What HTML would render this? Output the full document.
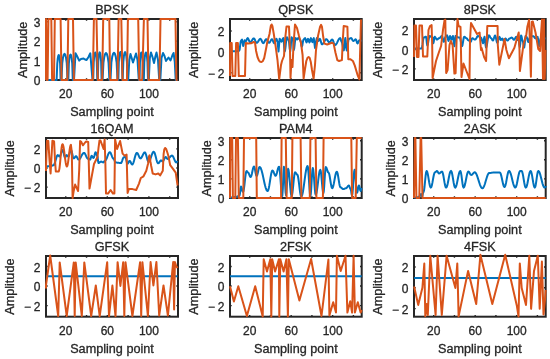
<!DOCTYPE html>
<html><head><meta charset="utf-8"><style>
html,body{margin:0;padding:0;background:#fff;width:550px;height:359px;overflow:hidden}
svg{display:block;filter:blur(0.35px)}
text{font-family:"Liberation Sans",Arial,sans-serif;fill:#262626;stroke:#262626;stroke-width:0.3px}
</style></head><body>
<svg width="550" height="359" viewBox="0 0 550 359">
<rect x="46" y="19" width="132" height="61" fill="none" stroke="#262626" stroke-width="2.0"/>
<path d="M65.75 80v-1.7M65.75 19v1.7M86.54 80v-1.7M86.54 19v1.7M107.32 80v-1.7M107.32 19v1.7M128.11 80v-1.7M128.11 19v1.7M148.9 80v-1.7M148.9 19v1.7M169.69 80v-1.7M169.69 19v1.7M46 80h1.7M178 80h-1.7M46 60.58h1.7M178 60.58h-1.7M46 41.17h1.7M178 41.17h-1.7M46 21.75h1.7M178 21.75h-1.7" stroke="#262626" stroke-width="1.4" fill="none"/>
<polyline points="46,80 56.6,80 57.27,63.77 57.75,58.61 58.23,55.88 58.7,55 59.17,55.88 59.65,58.61 60.12,63.77 60.6,80 61.5,80 62.25,62.99 63,57.58 63.75,54.72 64.5,53.8 65.25,54.72 66,57.58 66.75,62.99 67.5,80 68.3,80 68.86,63.45 69.42,58.18 69.99,55.39 70.55,54.5 71.11,55.39 71.67,58.18 72.24,63.45 72.8,80 74,80 75.5,53.2 77,56 79.2,60.6 81,59 83.6,58.5 85,59.5 86.6,60 88.5,57 90.3,53.3 92.5,80 93.2,80 93.71,62.15 94.22,56.47 94.74,53.46 95.25,52.5 95.76,53.46 96.28,56.47 96.79,62.15 97.3,80 97.8,80 98.27,62.02 98.75,56.3 99.22,53.27 99.7,52.3 100.17,53.27 100.65,56.3 101.12,62.02 101.6,80 102.6,80 103.45,62.48 104.3,56.9 105.15,53.95 106,53 106.85,53.95 107.7,56.9 108.55,62.48 109.4,80 110.5,80 111.38,62.28 112.25,56.64 113.12,53.66 114,52.7 114.88,53.66 115.75,56.64 116.62,62.28 117.5,80 118.3,80 118.83,61.83 119.35,56.04 119.88,52.98 120.4,52 120.92,52.98 121.45,56.04 121.97,61.83 122.5,80 122.7,80 123.3,61.83 123.9,56.04 124.5,52.98 125.1,52 125.7,52.98 126.3,56.04 126.9,61.83 127.5,80 128.2,80 129.3,60 130.5,54 133,62.5 136,53.5 137.5,60 138.8,80 139.5,80 139.96,62.15 140.43,56.47 140.89,53.46 141.35,52.5 141.81,53.46 142.27,56.47 142.74,62.15 143.2,80 143.8,80 144.33,62.15 144.85,56.47 145.38,53.46 145.9,52.5 146.43,53.46 146.95,56.47 147.47,62.15 148,80 148.8,80 149.8,58 151,52.5 152.5,57 154,63 155.5,56 156.5,52.5 158,60 159.2,80 160.3,80 161.5,58 163,53 164.5,56 166,61 168.5,57.5 170.5,60.5 172.5,55 173.6,53 174.8,62 175.7,80 177.5,80" fill="none" stroke="#0072BD" stroke-width="2.0" stroke-linejoin="round"/>
<polyline points="46,80 46,19 46.1,19 46.9,80 47.6,80 48.4,19 51.3,19 52.1,80 54,80 54.8,19 60.6,19 61.5,80 67.4,80 68.3,19 73,19 73.9,80 92.8,80 93.9,19 96.5,19 97.8,80 102.2,80 103.2,19 109.3,19 110.1,80 117.5,80 118.6,19 121.3,19 122.5,80 127,80 127.9,19 138.2,19 139.3,80 142.2,80 143.9,19 147.5,19 148.5,80 159.4,80 160.5,19 175.5,19 176.4,80 177.5,80" fill="none" stroke="#D95319" stroke-width="2.0" stroke-linejoin="round"/>
<text x="112" y="13.5" text-anchor="middle" font-size="12.65">BPSK</text>
<text x="65.75" y="98.2" text-anchor="middle" font-size="12">20</text>
<text x="107.32" y="98.2" text-anchor="middle" font-size="12">60</text>
<text x="148.9" y="98.2" text-anchor="middle" font-size="12">100</text>
<text x="112" y="116.2" text-anchor="middle" font-size="12.65">Sampling point</text>
<text x="40.4" y="85" text-anchor="end" font-size="12">0</text>
<text x="40.4" y="65.58" text-anchor="end" font-size="12">1</text>
<text x="40.4" y="46.17" text-anchor="end" font-size="12">2</text>
<text x="40.4" y="26.75" text-anchor="end" font-size="12">3</text>
<text transform="translate(26.8 49.8) rotate(-90)" text-anchor="middle" font-size="12.65">Amplitude</text>
<rect x="230" y="19" width="131.7" height="61" fill="none" stroke="#262626" stroke-width="2.0"/>
<path d="M249.7 80v-1.7M249.7 19v1.7M270.44 80v-1.7M270.44 19v1.7M291.18 80v-1.7M291.18 19v1.7M311.92 80v-1.7M311.92 19v1.7M332.66 80v-1.7M332.66 19v1.7M353.4 80v-1.7M353.4 19v1.7M230 72.78h1.7M361.7 72.78h-1.7M230 51.86h1.7M361.7 51.86h-1.7M230 30.94h1.7M361.7 30.94h-1.7" stroke="#262626" stroke-width="1.4" fill="none"/>
<polyline points="230,51.3 236,51.3 236,51.3 236.46,51.28 236.91,51.21 237.37,51.11 237.83,50.99 238.29,50.89 238.74,50.82 239.2,50.8 239.65,49.34 240.1,45.8 240.55,42.26 241,40.8 241.5,40.2 242,39.6 242.6,42.8 243.2,46 243.67,44.58 244.13,41.73 244.6,40.3 245,40.55 245.4,41.05 245.8,41.3 246.25,40.83 246.7,39.7 247.15,38.57 247.6,38.1 248.03,38.39 248.47,39.17 248.9,40.25 249.33,41.32 249.77,42.11 250.2,42.4 250.6,42.28 251,41.93 251.4,41.4 251.8,40.75 252.2,40.05 252.6,39.4 253,38.87 253.4,38.52 253.8,38.4 254.21,38.62 254.63,39.23 255.04,40.11 255.46,41.09 255.87,41.97 256.29,42.58 256.7,42.8 257.11,42.68 257.52,42.33 257.93,41.8 258.34,41.15 258.76,40.45 259.17,39.8 259.58,39.27 259.99,38.92 260.4,38.8 260.81,39.02 261.23,39.63 261.64,40.51 262.06,41.49 262.47,42.37 262.89,42.98 263.3,43.2 263.71,43 264.13,42.45 264.54,41.65 264.96,40.75 265.37,39.95 265.79,39.4 266.2,39.2 266.61,39.38 267.03,39.88 267.44,40.6 267.86,41.4 268.27,42.12 268.69,42.62 269.1,42.8 269.51,42.62 269.93,42.12 270.34,41.4 270.76,40.6 271.17,39.88 271.59,39.38 272,39.2 272.44,39.58 272.88,40.58 273.32,41.82 273.76,42.82 274.2,43.2 274.64,42.78 275.08,41.68 275.52,40.32 275.96,39.22 276.4,38.8 276.8,39.55 277.2,41.05 277.6,41.8 278.05,46.65 278.5,51.5 279.05,45.15 279.6,38.8 280.08,39.22 280.55,40.25 281.02,41.28 281.5,41.7 281.95,41.17 282.4,39.9 282.85,38.63 283.3,38.1 283.77,41.45 284.23,48.15 284.7,51.5 285.14,50.14 285.58,46.59 286.02,42.21 286.46,38.66 286.9,37.3 287.35,37.74 287.8,38.8 288.25,39.86 288.7,40.3 289.2,43.1 289.7,48.7 290.2,51.5 290.67,47.95 291.13,40.85 291.6,37.3 292.1,38.05 292.6,39.55 293.1,40.3 293.45,45.15 293.8,50 294.25,48.26 294.7,44.05 295.15,39.84 295.6,38.1 296.1,38.45 296.6,39.15 297.1,39.5 297.57,39.05 298.03,38.15 298.5,37.7 298.98,38.08 299.45,39 299.92,39.92 300.4,40.3 300.87,41.92 301.33,45.17 301.8,46.8 302.25,45.73 302.7,43.15 303.15,40.57 303.6,39.5 304.1,39.15 304.6,38.45 305.1,38.1 305.57,39.17 306.03,41.32 306.5,42.4 307,41.5 307.5,39.7 308,38.8 308.5,39.7 309,41.5 309.5,42.4 309.97,41.33 310.43,39.18 310.9,38.1 311.4,39.1 311.9,41.1 312.4,42.1 312.87,41.1 313.33,39.1 313.8,38.1 314.4,43.05 315,48 315.48,46.55 315.95,43.05 316.42,39.55 316.9,38.1 317.4,38.83 317.9,40.27 318.4,41 318.87,40.45 319.33,39.35 319.8,38.8 320.24,39.33 320.68,40.7 321.12,42.4 321.56,43.77 322,44.3 322.44,44.18 322.88,43.81 323.32,43.25 323.76,42.54 324.2,41.75 324.64,40.96 325.08,40.25 325.52,39.69 325.96,39.32 326.4,39.2 326.81,39.36 327.23,39.8 327.64,40.44 328.06,41.16 328.47,41.8 328.89,42.24 329.3,42.4 329.71,42.26 330.13,41.85 330.54,41.27 330.96,40.63 331.37,40.05 331.79,39.64 332.2,39.5 332.61,39.77 333.03,40.54 333.44,41.64 333.86,42.86 334.27,43.96 334.69,44.73 335.1,45 335.53,44.88 335.95,44.54 336.38,43.99 336.8,43.27 337.23,42.44 337.65,41.55 338.07,40.66 338.5,39.83 338.93,39.11 339.35,38.56 339.77,38.22 340.2,38.1 340.67,39 341.13,40.8 341.6,41.7 342.04,42.53 342.48,44.71 342.92,47.39 343.36,49.57 343.8,50.4 344.3,47.33 344.8,41.18 345.3,38.1 345.77,41.17 346.23,47.32 346.7,50.4 347.14,49.29 347.58,46.39 348.02,42.81 348.46,39.91 348.9,38.8 349.34,38.73 349.78,38.56 350.22,38.34 350.66,38.17 351.1,38.1 351.54,38.38 351.98,39.1 352.42,40 352.86,40.72 353.3,41 353.78,40.84 354.26,40.41 354.74,39.89 355.22,39.46 355.7,39.3 356.15,39.9 356.6,41.35 357.05,42.8 357.5,43.4 357.98,42.95 358.45,41.85 358.92,40.75 359.4,40.3 359.82,40.35 360.24,40.47 360.66,40.63 361.08,40.75 361.5,40.8" fill="none" stroke="#0072BD" stroke-width="2.0" stroke-linejoin="round"/>
<polyline points="230,76.1 230.2,43.1 231.7,43.1 232.6,76.1 235.3,76.1 236.1,43.1 237.9,43.1 238.8,76.1 245,76.1 245.8,43.1 248,43.6 251,43.3 253.6,42 255,42.5 256.1,51 257.5,57 259,60.6 260.2,61.8 261.5,62 262.8,61.2 264.2,58 265.4,52 266.3,47.5 267.3,42 269.5,34 270.8,26 271.6,24.5 272.4,26 273.8,34 275.6,46 277.5,60 279.2,79.1 281,65 282,61 284,56 285,40 286.5,26.5 289,26.5 290,50 290.5,78 291.5,60 292.5,67 293.5,45 295,24.5 297,28 299,36 301,43 302.6,55 303.6,78.5 305,69 306.3,61 307.5,57.8 308.6,57 309.7,58 310.8,62 312,70 313.6,78.6 315,65 316,50 318,36 320,27 321.1,24.8 322,27 323.1,36 324.4,43.6 327.2,44.5 331.8,42.7 333.6,43.6 335.5,52.8 337.3,60.1 339.1,61 341.9,60.1 342.8,40 343.7,26.1 347.4,26.8 348.3,59.2 350.2,59.2 352.9,61 354.8,65.6 357.5,74.8 359.4,79.4 360.3,45 361,19.5" fill="none" stroke="#D95319" stroke-width="2.0" stroke-linejoin="round"/>
<text x="295.85" y="13.5" text-anchor="middle" font-size="12.65">QPSK</text>
<text x="249.7" y="98.2" text-anchor="middle" font-size="12">20</text>
<text x="291.18" y="98.2" text-anchor="middle" font-size="12">60</text>
<text x="332.66" y="98.2" text-anchor="middle" font-size="12">100</text>
<text x="295.85" y="116.2" text-anchor="middle" font-size="12.65">Sampling point</text>
<text x="224.4" y="77.78" text-anchor="end" font-size="12">−<tspan dx="2.6">2</tspan></text>
<text x="224.4" y="56.86" text-anchor="end" font-size="12">0</text>
<text x="224.4" y="35.94" text-anchor="end" font-size="12">2</text>
<text transform="translate(197.8 49.8) rotate(-90)" text-anchor="middle" font-size="12.65">Amplitude</text>
<rect x="414" y="19" width="131.7" height="61" fill="none" stroke="#262626" stroke-width="2.0"/>
<path d="M433.7 80v-1.7M433.7 19v1.7M454.44 80v-1.7M454.44 19v1.7M475.18 80v-1.7M475.18 19v1.7M495.92 80v-1.7M495.92 19v1.7M516.66 80v-1.7M516.66 19v1.7M537.4 80v-1.7M537.4 19v1.7M414 68.92h1.7M545.7 68.92h-1.7M414 49.5h1.7M545.7 49.5h-1.7M414 30.08h1.7M545.7 30.08h-1.7" stroke="#262626" stroke-width="1.4" fill="none"/>
<polyline points="414.1,48.5 414.53,48.5 414.97,48.49 415.4,48.48 415.83,48.46 416.27,48.44 416.7,48.42 417.13,48.41 417.57,48.4 418,48.4 418.4,48.4 418.8,48.4 419.2,48.4 419.6,48.4 420,48.4 420.4,48.4 420.8,48.4 421.2,48.4 421.6,48.4 422.04,47.36 422.48,44.63 422.92,41.27 423.36,38.54 423.8,37.5 424.24,37.42 424.68,37.22 425.12,36.98 425.56,36.78 426,36.7 426.43,38.9 426.87,43.3 427.3,45.5 427.76,44.59 428.22,42.22 428.68,39.28 429.14,36.91 429.6,36 430.01,36.07 430.43,36.28 430.84,36.58 431.26,36.92 431.67,37.22 432.09,37.43 432.5,37.5 432.9,40.4 433.3,43.3 433.77,41.65 434.23,38.35 434.7,36.7 435.14,36.98 435.58,37.7 436.02,38.6 436.46,39.32 436.9,39.6 437.34,39.47 437.78,39.12 438.22,38.68 438.66,38.33 439.1,38.2 439.51,38.09 439.93,37.79 440.34,37.34 440.76,36.86 441.17,36.41 441.59,36.11 442,36 442.45,36.85 442.9,38.9 443.35,40.95 443.8,41.8 444.25,41.05 444.7,39.25 445.15,37.45 445.6,36.7 446.1,36.35 446.6,35.65 447.1,35.3 447.57,36.72 448.03,39.57 448.5,41 449,39.75 449.5,37.25 450,36 450.5,36.9 451,38.7 451.5,39.6 451.97,38.7 452.43,36.9 452.9,36 453.4,38.55 453.9,43.65 454.4,46.2 454.95,41.1 455.5,36 455.91,36.07 456.33,36.28 456.74,36.58 457.16,36.92 457.57,37.22 457.99,37.43 458.4,37.5 458.87,37.5 459.33,37.5 459.8,37.5 460.24,38.33 460.68,40.51 461.12,43.19 461.56,45.37 462,46.2 462.44,45.29 462.88,42.92 463.32,39.98 463.76,37.61 464.2,36.7 464.64,36.84 465.08,37.22 465.52,37.68 465.96,38.06 466.4,38.2 466.82,38.41 467.24,38.96 467.66,39.64 468.08,40.19 468.5,40.4 468.94,40.53 469.38,40.88 469.82,41.32 470.26,41.67 470.7,41.8 471.2,40.9 471.7,39.1 472.2,38.2 472.61,38.27 473.03,38.46 473.44,38.74 473.86,39.06 474.27,39.34 474.69,39.53 475.1,39.6 475.51,39.42 475.93,38.92 476.34,38.2 476.76,37.4 477.17,36.68 477.59,36.18 478,36 478.41,36.07 478.83,36.28 479.24,36.58 479.66,36.92 480.07,37.22 480.49,37.43 480.9,37.5 481.34,38.05 481.78,39.5 482.22,41.3 482.66,42.75 483.1,43.3 483.57,41.65 484.03,38.35 484.5,36.7 485,39.43 485.5,44.88 486,47.6 486.41,46.99 486.83,45.28 487.24,42.82 487.66,40.08 488.07,37.62 488.49,35.91 488.9,35.3 489.34,35.58 489.78,36.3 490.22,37.2 490.66,37.92 491.1,38.2 491.55,38.54 492,39.35 492.45,40.16 492.9,40.5 493.34,40.02 493.78,38.77 494.22,37.23 494.66,35.98 495.1,35.5 495.54,36.19 495.98,37.99 496.42,40.21 496.86,42.01 497.3,42.7 497.74,42.15 498.18,40.7 498.62,38.9 499.06,37.45 499.5,36.9 499.97,37.67 500.43,39.23 500.9,40 501.4,39.62 501.9,38.88 502.4,38.5 502.87,39.2 503.33,40.6 503.8,41.3 504.3,40.6 504.8,39.2 505.3,38.5 505.74,38.69 506.18,39.19 506.62,39.81 507.06,40.31 507.5,40.5 507.92,40.31 508.34,39.81 508.76,39.19 509.18,38.69 509.6,38.5 510.04,38.41 510.48,38.19 510.92,37.91 511.36,37.69 511.8,37.6 512.24,37.81 512.68,38.36 513.12,39.04 513.56,39.59 514,39.8 514.44,39.52 514.88,38.8 515.32,37.9 515.76,37.18 516.2,36.9 516.8,38.45 517.4,40 517.85,38 518.3,36 518.8,38.77 519.3,44.33 519.8,47.1 520.23,44.2 520.67,38.4 521.1,35.5 521.5,36.31 521.9,38.25 522.3,40.19 522.7,41 523.2,42.62 523.7,45.88 524.2,47.5 524.67,44.62 525.13,38.88 525.6,36 526.15,36.5 526.7,37 527.2,38.25 527.7,40.75 528.2,42 528.64,41.47 529.08,40.1 529.52,38.4 529.96,37.03 530.4,36.5 530.81,36.49 531.23,36.44 531.64,36.38 532.06,36.32 532.47,36.26 532.89,36.21 533.3,36.2 533.74,36.41 534.18,36.96 534.62,37.64 535.06,38.19 535.5,38.4 535.92,38.26 536.34,37.88 536.76,37.42 537.18,37.04 537.6,36.9 538.1,39.17 538.6,43.73 539.1,46 539.58,44.83 540.05,42 540.52,39.17 541,38 541.4,38.19 541.8,38.69 542.2,39.31 542.6,39.81 543,40 543.42,39.87 543.83,39.5 544.25,39 544.67,38.5 545.08,38.13 545.5,38" fill="none" stroke="#0072BD" stroke-width="2.0" stroke-linejoin="round"/>
<polyline points="414.1,57 414.5,25.5 416,25.5 417,57 418.5,57 419.5,25.5 422,25.5 423,56.5 427.3,56.5 428.5,30 430,26 431.6,25 432.2,45 432.6,78 436,61 439,52 441.1,46 443,30 444.6,20 445.3,19.5 446.2,73 447.6,70 449.5,45 450.8,41 452.6,45 454.4,73.6 455.6,73.2 456.6,40 457.5,19 458.5,26 460.5,27 461.5,77.1 463.5,63.5 469.5,79 470,40 471,23 477,34 479.6,32.5 481,50 481.6,48 484.1,57 486.1,61 486.8,40 487.3,26 497.6,26 497.8,45 499.3,64.7 504.5,39.1 506.4,50 508.9,58.3 514.4,47.8 518.7,32.5 519.5,50 519.9,71.1 523.6,43.6 526.3,35 527.3,27 529.1,19.7 530,45 530.9,76.7 531.8,22 532.8,21.5 535.5,32.5 538.3,49 540.1,51 541,34.4 542,19.5 543,79 544,19.5 544.7,79 545.5,50" fill="none" stroke="#D95319" stroke-width="2.0" stroke-linejoin="round"/>
<text x="479.85" y="13.5" text-anchor="middle" font-size="12.65">8PSK</text>
<text x="433.7" y="98.2" text-anchor="middle" font-size="12">20</text>
<text x="475.18" y="98.2" text-anchor="middle" font-size="12">60</text>
<text x="516.66" y="98.2" text-anchor="middle" font-size="12">100</text>
<text x="479.85" y="116.2" text-anchor="middle" font-size="12.65">Sampling point</text>
<text x="408.4" y="73.92" text-anchor="end" font-size="12">−<tspan dx="2.6">2</tspan></text>
<text x="408.4" y="54.5" text-anchor="end" font-size="12">0</text>
<text x="408.4" y="35.08" text-anchor="end" font-size="12">2</text>
<text transform="translate(381.8 49.8) rotate(-90)" text-anchor="middle" font-size="12.65">Amplitude</text>
<rect x="46" y="138" width="132" height="60" fill="none" stroke="#262626" stroke-width="2.0"/>
<path d="M65.75 198v-1.7M65.75 138v1.7M86.54 198v-1.7M86.54 138v1.7M107.32 198v-1.7M107.32 138v1.7M128.11 198v-1.7M128.11 138v1.7M148.9 198v-1.7M148.9 138v1.7M169.69 198v-1.7M169.69 138v1.7M46 187.1h1.7M178 187.1h-1.7M46 168h1.7M178 168h-1.7M46 148.9h1.7M178 148.9h-1.7" stroke="#262626" stroke-width="1.4" fill="none"/>
<polyline points="46,166.5 46,166.49 46.15,166.48 46.58,166.45 47.01,166.41 47.44,166.37 47.86,166.33 48.29,166.29 48.72,166.25 49.15,166.22 49.57,166.21 50,166.2 50.44,166.17 50.88,166.07 51.31,165.92 51.75,165.75 52.19,165.58 52.62,165.43 53.06,165.33 53.5,165.3 53.93,165.05 54.36,164.33 54.79,163.2 55.22,161.78 55.65,160.2 56.08,158.62 56.51,157.2 56.94,156.07 57.37,155.35 57.8,155.1 58.25,155.31 58.7,155.8 59.15,156.29 59.6,156.5 60.01,156.18 60.43,155.28 60.84,153.97 61.26,152.53 61.67,151.22 62.09,150.32 62.5,150 62.93,150.51 63.37,151.9 63.8,153.8 64.23,155.7 64.67,157.09 65.1,157.6 65.57,156.97 66.03,155.72 66.5,155.1 66.97,155.31 67.45,155.8 67.93,156.29 68.4,156.5 68.82,156.06 69.23,154.88 69.65,153.25 70.07,151.62 70.48,150.44 70.9,150 71.31,150.42 71.73,151.58 72.14,153.27 72.56,155.13 72.97,156.82 73.39,157.98 73.8,158.4 74.24,158.19 74.68,157.64 75.12,156.96 75.56,156.41 76,156.2 76.43,156.43 76.87,157.05 77.3,157.9 77.73,158.75 78.17,159.37 78.6,159.6 79.02,159.5 79.43,159.22 79.85,158.76 80.26,158.15 80.68,157.44 81.09,156.65 81.51,155.85 81.92,155.06 82.34,154.35 82.75,153.74 83.17,153.28 83.58,153 84,152.9 84.4,153.04 84.8,153.45 85.2,154.1 85.6,154.9 86,155.8 86.4,156.7 86.8,157.5 87.2,158.15 87.6,158.56 88,158.7 88.44,158.78 88.88,158.98 89.32,159.22 89.76,159.42 90.2,159.5 90.67,158.58 91.13,156.73 91.6,155.8 92.07,156.12 92.55,156.9 93.03,157.68 93.5,158 93.92,157.45 94.34,156 94.76,154.2 95.18,152.75 95.6,152.2 96.02,152.76 96.45,154.1 96.88,155.44 97.3,156 97.7,157.78 98.1,161.32 98.5,163.1 98.93,163 99.37,162.72 99.8,162.35 100.23,161.97 100.67,161.7 101.1,161.6 101.54,161.68 101.98,161.88 102.42,162.12 102.86,162.32 103.3,162.4 103.75,162.12 104.2,161.45 104.65,160.78 105.1,160.5 105.53,160.33 105.95,159.84 106.38,159.07 106.81,158.07 107.24,156.94 107.66,155.76 108.09,154.63 108.52,153.63 108.95,152.86 109.37,152.37 109.8,152.2 110.21,152.4 110.62,152.96 111.03,153.82 111.44,154.89 111.86,156.01 112.27,157.07 112.68,157.94 113.09,158.5 113.5,158.7 113.92,159.05 114.34,159.98 114.76,161.12 115.18,162.05 115.6,162.4 116.04,162.43 116.48,162.5 116.92,162.6 117.36,162.67 117.8,162.7 118.24,162.72 118.69,162.78 119.13,162.86 119.57,162.94 120.01,163.02 120.46,163.08 120.9,163.1 121.31,162.81 121.73,162.01 122.14,160.85 122.56,159.55 122.97,158.39 123.39,157.59 123.8,157.3 124.3,157.23 124.8,157.08 125.3,157 125.74,157.65 126.18,159.35 126.62,161.45 127.06,163.15 127.5,163.8 127.92,163.52 128.34,162.8 128.76,161.9 129.18,161.18 129.6,160.9 130.03,161.14 130.47,161.8 130.9,162.7 131.33,163.6 131.77,164.26 132.2,164.5 132.63,164.27 133.05,163.58 133.48,162.5 133.91,161.11 134.34,159.53 134.76,157.87 135.19,156.29 135.62,154.9 136.05,153.82 136.47,153.13 136.9,152.9 137.35,153.11 137.8,153.71 138.25,154.6 138.7,155.65 139.15,156.7 139.6,157.59 140.05,158.19 140.5,158.4 140.93,158.25 141.36,157.83 141.79,157.16 142.22,156.33 142.65,155.4 143.08,154.47 143.51,153.64 143.94,152.97 144.37,152.55 144.8,152.4 145.22,152.68 145.64,153.49 146.07,154.72 146.49,156.24 146.91,157.86 147.33,159.38 147.76,160.61 148.18,161.42 148.6,161.7 149.03,161.53 149.45,161.04 149.88,160.25 150.3,159.22 150.72,158.03 151.15,156.75 151.57,155.47 152,154.28 152.42,153.25 152.85,152.46 153.27,151.97 153.7,151.8 154.11,152.03 154.52,152.71 154.93,153.78 155.34,155.16 155.75,156.73 156.15,158.37 156.56,159.94 156.97,161.32 157.38,162.39 157.79,163.07 158.2,163.3 158.61,163.16 159.03,162.75 159.44,162.17 159.86,161.53 160.27,160.95 160.69,160.54 161.1,160.4 161.57,160.68 162.03,161.22 162.5,161.5 162.91,161.33 163.32,160.84 163.74,160.11 164.15,159.25 164.56,158.39 164.98,157.66 165.39,157.17 165.8,157 166.25,157.28 166.7,157.95 167.15,158.62 167.6,158.9 168,158.83 168.4,158.64 168.8,158.33 169.2,157.94 169.6,157.48 170,157.02 170.4,156.56 170.8,156.17 171.2,155.86 171.6,155.67 172,155.6 172.4,155.74 172.8,156.15 173.2,156.79 173.6,157.62 174,158.56 174.4,159.54 174.8,160.48 175.2,161.31 175.6,161.95 176,162.36 176.4,162.5 177,161.75 177.6,161" fill="none" stroke="#0072BD" stroke-width="2.0" stroke-linejoin="round"/>
<polyline points="46,171 46,167 47,140.7 48.3,141 49.5,160 50.6,173.4 51.5,157 52.4,140.7 54.1,141.5 55,160 55.8,171.5 58.3,171.5 58.6,171.5 59.03,170.68 59.47,168.31 59.9,164.68 60.33,160.22 60.77,155.48 61.2,151.03 61.63,147.39 62.07,145.02 62.5,144.2 62.9,144.65 63.3,145.97 63.7,148.05 64.1,150.72 64.5,153.76 64.9,156.94 65.3,159.98 65.7,162.65 66.1,164.73 66.5,166.05 66.9,166.5 67.3,165.97 67.7,164.44 68.1,162.05 68.5,159.04 68.9,155.7 69.3,152.36 69.7,149.35 70.1,146.96 70.5,145.43 70.9,144.9 71.8,152 72.6,198 73.5,192 75.1,184.6 78.1,191 79.2,170 80.1,141 81,141.5 82.9,145.3 85.5,142 86.5,141.5 88.2,142 88.7,160 89.5,188.6 94,164 97.5,157 98.5,148 99.5,140.5 100.5,140.5 103.6,149 104.6,139.5 105.3,160 106,193.6 108,193.6 110.6,190 113,193.6 114.4,193.6 115.1,139.5 117.1,149 120.1,141 122.6,153.6 124.6,155.6 126.6,154.6 127.6,193 128.8,189.1 132.5,189.1 136.2,190 139,183.6 140.8,178 143.5,176.3 146.3,170.8 148.1,163.4 149,156.5 149.6,155.3 150.5,162 151.2,166 152.7,173.5 155.5,174.4 158.3,173.5 160.1,175.4 162.8,170.8 163.6,154.2 164.3,149.5 165.1,148 166.2,149 167.5,153 168.4,156 170.2,165.2 173,168.9 175.7,172.6 177.6,185.5" fill="none" stroke="#D95319" stroke-width="2.0" stroke-linejoin="round"/>
<text x="112" y="132.5" text-anchor="middle" font-size="12.65">16QAM</text>
<text x="65.75" y="216.2" text-anchor="middle" font-size="12">20</text>
<text x="107.32" y="216.2" text-anchor="middle" font-size="12">60</text>
<text x="148.9" y="216.2" text-anchor="middle" font-size="12">100</text>
<text x="112" y="234.2" text-anchor="middle" font-size="12.65">Sampling point</text>
<text x="40.4" y="192.1" text-anchor="end" font-size="12">−<tspan dx="2.6">2</tspan></text>
<text x="40.4" y="173" text-anchor="end" font-size="12">0</text>
<text x="40.4" y="153.9" text-anchor="end" font-size="12">2</text>
<text transform="translate(13.8 168.3) rotate(-90)" text-anchor="middle" font-size="12.65">Amplitude</text>
<rect x="230" y="138" width="131.7" height="60" fill="none" stroke="#262626" stroke-width="2.0"/>
<path d="M249.7 198v-1.7M249.7 138v1.7M270.44 198v-1.7M270.44 138v1.7M291.18 198v-1.7M291.18 138v1.7M311.92 198v-1.7M311.92 138v1.7M332.66 198v-1.7M332.66 138v1.7M353.4 198v-1.7M353.4 138v1.7M230 198h1.7M361.7 198h-1.7M230 178.9h1.7M361.7 178.9h-1.7M230 159.8h1.7M361.7 159.8h-1.7M230 140.7h1.7M361.7 140.7h-1.7" stroke="#262626" stroke-width="1.4" fill="none"/>
<polyline points="230,197.5 230.32,197.49 230.74,197.48 231.15,197.45 231.57,197.41 231.99,197.36 232.41,197.31 232.82,197.25 233.24,197.18 233.66,197.12 234.08,197.05 234.49,196.99 234.91,196.94 235.33,196.89 235.75,196.85 236.16,196.82 236.58,196.81 237,196.8 237.42,196.71 237.83,196.48 238.25,196.15 238.67,195.83 239.08,195.59 239.5,195.5 240,193.28 240.5,188.82 241,186.6 241.4,187.12 241.8,188.47 242.2,190.13 242.6,191.48 243,192 243.45,191.2 243.9,188.92 244.35,185.52 244.8,181.5 245.25,177.48 245.7,174.08 246.15,171.8 246.6,171 247.07,171.38 247.53,172.12 248,172.5 248.43,172.8 248.87,173.62 249.3,174.75 249.73,175.88 250.17,176.7 250.6,177 251.03,176.6 251.45,175.46 251.88,173.76 252.3,171.75 252.72,169.74 253.15,168.04 253.57,166.9 254,166.5 254.43,167.14 254.87,168.88 255.3,171.25 255.73,173.62 256.17,175.36 256.6,176 257.03,175.55 257.46,174.31 257.89,172.5 258.31,170.5 258.74,168.69 259.17,167.45 259.6,167 260,167.15 260.4,167.59 260.8,168.31 261.2,169.29 261.6,170.51 262,171.95 262.4,173.55 262.8,175.29 263.2,177.12 263.6,179 264,180.88 264.4,182.71 264.8,184.45 265.2,186.05 265.6,187.49 266,188.71 266.4,189.69 266.8,190.41 267.2,190.85 267.6,191 268.01,190.65 268.42,189.63 268.83,188 269.23,185.88 269.64,183.4 270.05,180.75 270.46,178.1 270.87,175.62 271.27,173.5 271.68,171.87 272.09,170.85 272.5,170.5 272.94,170.76 273.39,171.5 273.83,172.56 274.27,173.74 274.71,174.8 275.16,175.54 275.6,175.8 276.03,175.45 276.45,174.47 276.88,172.99 277.3,171.25 277.73,169.51 278.15,168.03 278.57,167.05 279,166.7 279.41,167.82 279.82,170.99 280.24,175.74 280.65,181.35 281.06,186.96 281.48,191.71 281.89,194.88 282.3,196 282.83,188.68 283.37,174.03 283.9,166.7 284.32,169.4 284.74,176.48 285.16,185.22 285.58,192.3 286,195 286.42,192.5 286.84,185.95 287.26,177.85 287.68,171.3 288.1,168.8 288.54,169.84 288.98,172.78 289.41,177.2 289.85,182.4 290.29,187.6 290.73,192.02 291.16,194.96 291.6,196 292.04,195.1 292.48,192.53 292.91,188.68 293.35,184.15 293.79,179.62 294.23,175.77 294.66,173.2 295.1,172.3 295.52,172.51 295.94,173.06 296.36,173.74 296.78,174.29 297.2,174.5 297.61,175.04 298.02,176.6 298.43,179.03 298.84,182.1 299.25,185.5 299.66,188.9 300.07,191.97 300.48,194.4 300.89,195.96 301.3,196.5 301.72,196.17 302.14,195.18 302.56,193.59 302.98,191.45 303.4,188.88 303.82,185.96 304.24,182.84 304.66,179.66 305.08,176.54 305.5,173.62 305.92,171.05 306.34,168.91 306.76,167.32 307.18,166.33 307.6,166 308.07,168.01 308.53,173.5 309,181 309.47,188.5 309.93,193.99 310.4,196 310.8,194.12 311.2,189 311.6,182 312,175 312.4,169.88 312.8,168 313.21,169.32 313.63,173.03 314.04,178.38 314.46,184.32 314.87,189.67 315.29,193.38 315.7,194.7 316.12,194.2 316.54,192.72 316.95,190.4 317.37,187.42 317.79,184.02 318.21,180.48 318.63,177.08 319.05,174.1 319.46,171.78 319.88,170.3 320.3,169.8 320.74,170.95 321.19,174.17 321.63,178.82 322.07,183.98 322.51,188.63 322.96,191.85 323.4,193 323.8,191.27 324.2,186.53 324.6,180.05 325,173.57 325.4,168.83 325.8,167.1 326.25,167.47 326.7,168.47 327.15,169.85 327.6,171.22 328.05,172.23 328.5,172.6 328.91,173.07 329.32,174.42 329.73,176.5 330.14,179.05 330.56,181.75 330.97,184.3 331.38,186.38 331.79,187.73 332.2,188.2 332.62,187.87 333.04,186.89 333.45,185.35 333.87,183.38 334.29,181.12 334.71,178.78 335.13,176.52 335.55,174.55 335.96,173.01 336.38,172.03 336.8,171.7 337.21,172.17 337.62,173.52 338.03,175.6 338.44,178.15 338.86,180.85 339.27,183.4 339.68,185.48 340.09,186.83 340.5,187.3 340.95,187.42 341.4,187.75 341.85,188.2 342.3,188.65 342.75,188.98 343.2,189.1 343.6,189.06 344,188.93 344.4,188.75 344.8,188.55 345.2,188.37 345.6,188.24 346,188.2 346.4,188.07 346.8,187.69 347.2,187.15 347.6,186.55 348,186.01 348.4,185.63 348.8,185.5 349.25,186.01 349.7,187.25 350.15,188.49 350.6,189 351.07,190.65 351.53,193.95 352,195.6 352.43,193.87 352.87,189.15 353.3,182.7 353.73,176.25 354.17,171.53 354.6,169.8 355.08,172 355.56,177.75 356.04,184.85 356.52,190.6 357,192.8 357.48,191.73 357.95,189.15 358.42,186.57 358.9,185.5 359.35,186.31 359.8,188.25 360.25,190.19 360.7,191 361.1,189.5 361.5,188" fill="none" stroke="#0072BD" stroke-width="2.0" stroke-linejoin="round"/>
<polyline points="230,198 230.4,138 232.2,138 232.9,198 235.3,198 236,138 237.9,138 238.8,198 243.3,198 244,138 256.2,138 256.8,198 281.1,198 281.6,138 285.8,138 286.6,198 291.8,198 292.4,138 300.6,138 301.4,198 309.8,198 310.4,138 315.6,138 316.4,198 322.9,198 323.6,138 351.3,138 352.1,198 355.7,198 356.8,138 361.7,138" fill="none" stroke="#D95319" stroke-width="2.0" stroke-linejoin="round"/>
<text x="295.85" y="132.5" text-anchor="middle" font-size="12.65">PAM4</text>
<text x="249.7" y="216.2" text-anchor="middle" font-size="12">20</text>
<text x="291.18" y="216.2" text-anchor="middle" font-size="12">60</text>
<text x="332.66" y="216.2" text-anchor="middle" font-size="12">100</text>
<text x="295.85" y="234.2" text-anchor="middle" font-size="12.65">Sampling point</text>
<text x="224.4" y="203" text-anchor="end" font-size="12">0</text>
<text x="224.4" y="183.9" text-anchor="end" font-size="12">1</text>
<text x="224.4" y="164.8" text-anchor="end" font-size="12">2</text>
<text x="224.4" y="145.7" text-anchor="end" font-size="12">3</text>
<text transform="translate(210.8 168.3) rotate(-90)" text-anchor="middle" font-size="12.65">Amplitude</text>
<rect x="414" y="138" width="131.7" height="60" fill="none" stroke="#262626" stroke-width="2.0"/>
<path d="M433.7 198v-1.7M433.7 138v1.7M454.44 198v-1.7M454.44 138v1.7M475.18 198v-1.7M475.18 138v1.7M495.92 198v-1.7M495.92 138v1.7M516.66 198v-1.7M516.66 138v1.7M537.4 198v-1.7M537.4 138v1.7M414 198h1.7M545.7 198h-1.7M414 178.9h1.7M545.7 178.9h-1.7M414 159.8h1.7M545.7 159.8h-1.7M414 140.7h1.7M545.7 140.7h-1.7" stroke="#262626" stroke-width="1.4" fill="none"/>
<polyline points="414.1,197.5 414.66,197.49 415.21,197.46 415.77,197.42 416.33,197.38 416.89,197.34 417.44,197.31 418,197.3 418.5,197.11 419,196.65 419.5,196.19 420,196 420.5,195 421,194 421.5,195.25 422,196.5 422.5,195.38 423,193.12 423.5,192 424.02,190.59 424.53,186.75 425.05,181.5 425.57,176.25 426.08,172.41 426.6,171 427.12,171.63 427.65,173.43 428.18,176.12 428.7,179.3 429.23,182.48 429.75,185.17 430.28,186.97 430.8,187.6 431.32,187.02 431.85,185.36 432.38,182.88 432.9,179.95 433.43,177.02 433.95,174.54 434.48,172.88 435,172.3 435.5,172.11 436,171.65 436.5,171.19 437,171 437.5,171.37 438,172.25 438.5,173.13 439,173.5 439.5,173.37 440,173.03 440.5,172.55 441,172.07 441.5,171.73 442,171.6 442.51,172.21 443.02,173.94 443.54,176.54 444.05,179.6 444.56,182.66 445.08,185.26 445.59,186.99 446.1,187.6 446.64,187.1 447.19,185.65 447.73,183.43 448.28,180.7 448.82,177.8 449.37,175.08 449.91,172.85 450.46,171.4 451,170.9 451.52,171.54 452.05,173.35 452.57,176.05 453.1,179.25 453.62,182.45 454.15,185.15 454.68,186.96 455.2,187.6 455.71,187.19 456.22,186.01 456.73,184.18 457.24,181.86 457.75,179.3 458.26,176.74 458.77,174.42 459.28,172.59 459.79,171.41 460.3,171 460.85,172.11 461.4,175.15 461.95,179.3 462.5,183.45 463.05,186.49 463.6,187.6 464.13,187.12 464.67,185.73 465.2,183.6 465.73,180.99 466.27,178.21 466.8,175.6 467.33,173.47 467.87,172.08 468.4,171.6 468.96,171.92 469.52,172.77 470.08,173.83 470.64,174.68 471.2,175 471.7,174.87 472.2,174.49 472.7,173.95 473.2,173.35 473.7,172.81 474.2,172.43 474.7,172.3 475.21,172.47 475.73,172.99 476.24,173.83 476.75,174.95 477.27,176.3 477.78,177.83 478.29,179.46 478.81,181.14 479.32,182.77 479.83,184.3 480.35,185.65 480.86,186.77 481.37,187.61 481.89,188.13 482.4,188.3 482.93,188.08 483.46,187.42 483.99,186.38 484.52,185 485.05,183.36 485.58,181.57 486.12,179.73 486.65,177.94 487.18,176.3 487.71,174.92 488.24,173.88 488.77,173.22 489.3,173 489.82,172.98 490.34,172.94 490.87,172.88 491.39,172.79 491.91,172.71 492.43,172.62 492.96,172.56 493.48,172.52 494,172.5 494.53,172.5 495.05,172.5 495.58,172.5 496.11,172.5 496.64,172.5 497.16,172.5 497.69,172.5 498.22,172.5 498.75,172.5 499.27,172.5 499.8,172.5 500.32,172.94 500.84,174.2 501.37,176.12 501.89,178.49 502.41,181.01 502.93,183.38 503.46,185.3 503.98,186.56 504.5,187 505,186.51 505.5,185.12 506,182.97 506.5,180.35 507,177.55 507.5,174.93 508,172.78 508.5,171.39 509,170.9 509.52,171.18 510.05,172.02 510.57,173.35 511.1,175.07 511.62,177.09 512.15,179.25 512.67,181.41 513.2,183.42 513.72,185.15 514.25,186.48 514.77,187.32 515.3,187.6 515.84,187.1 516.39,185.66 516.93,183.45 517.48,180.74 518.02,177.86 518.57,175.15 519.11,172.94 519.66,171.5 520.2,171 520.9,171 521.6,171 522.12,171.63 522.65,173.43 523.17,176.12 523.7,179.3 524.23,182.48 524.75,185.17 525.27,186.97 525.8,187.6 526.33,187.1 526.87,185.66 527.4,183.45 527.93,180.74 528.47,177.86 529,175.15 529.53,172.94 530.07,171.5 530.6,171 531.12,171.63 531.65,173.43 532.17,176.12 532.7,179.3 533.23,182.48 533.75,185.17 534.27,186.97 534.8,187.6 535.3,186.78 535.8,184.47 536.3,181.15 536.8,177.45 537.3,174.13 537.8,171.82 538.3,171 538.82,171.28 539.35,172.11 539.88,173.43 540.4,175.15 540.92,177.15 541.45,179.3 541.98,181.45 542.5,183.45 543.02,185.17 543.55,186.49 544.08,187.32 544.6,187.6 545.17,187.2 545.7,186.4 545.7,186" fill="none" stroke="#0072BD" stroke-width="2.0" stroke-linejoin="round"/>
<polyline points="414,198 414.9,138 415.4,138 416.4,198 419.3,198 420.6,138 421.2,138 422.5,198 545.7,198" fill="none" stroke="#D95319" stroke-width="2.0" stroke-linejoin="round"/>
<text x="479.85" y="132.5" text-anchor="middle" font-size="12.65">2ASK</text>
<text x="433.7" y="216.2" text-anchor="middle" font-size="12">20</text>
<text x="475.18" y="216.2" text-anchor="middle" font-size="12">60</text>
<text x="516.66" y="216.2" text-anchor="middle" font-size="12">100</text>
<text x="479.85" y="234.2" text-anchor="middle" font-size="12.65">Sampling point</text>
<text x="408.4" y="203" text-anchor="end" font-size="12">0</text>
<text x="408.4" y="183.9" text-anchor="end" font-size="12">1</text>
<text x="408.4" y="164.8" text-anchor="end" font-size="12">2</text>
<text x="408.4" y="145.7" text-anchor="end" font-size="12">3</text>
<text transform="translate(394.8 168.3) rotate(-90)" text-anchor="middle" font-size="12.65">Amplitude</text>
<rect x="46" y="256" width="132" height="60.7" fill="none" stroke="#262626" stroke-width="2.0"/>
<path d="M65.75 316.7v-1.7M65.75 256v1.7M86.54 316.7v-1.7M86.54 256v1.7M107.32 316.7v-1.7M107.32 256v1.7M128.11 316.7v-1.7M128.11 256v1.7M148.9 316.7v-1.7M148.9 256v1.7M169.69 316.7v-1.7M169.69 256v1.7M46 305.6h1.7M178 305.6h-1.7M46 286.05h1.7M178 286.05h-1.7M46 266.5h1.7M178 266.5h-1.7" stroke="#262626" stroke-width="1.4" fill="none"/>
<polyline points="46,276.3 177.5,276.3" fill="none" stroke="#0072BD" stroke-width="2.0" stroke-linejoin="round"/>
<polyline points="46,288.5 46,285.1 50.2,255.5 58.2,316 59.7,262.4 66.7,316 73.8,262.4 74.7,316 75.7,262.4 81.8,316 84.3,262.4 91.2,316 95.8,285.5 99.7,316.2 107.2,262.2 109,316.2 112.4,285.5 115.5,316.2 117.6,262.2 120.4,286 123.2,262.2 124.3,316 125.5,262.2 132.4,316 140.1,262.2 141.2,316 142.4,262.2 147.9,316 150.6,262 153.4,285.4 156.4,262 159.2,315.6 163.5,285.5 167.9,315.6 173.2,262 174.1,309.5 174.9,262 176.2,266 177.5,268" fill="none" stroke="#D95319" stroke-width="2.0" stroke-linejoin="round"/>
<text x="112" y="250.5" text-anchor="middle" font-size="12.65">GFSK</text>
<text x="65.75" y="334.9" text-anchor="middle" font-size="12">20</text>
<text x="107.32" y="334.9" text-anchor="middle" font-size="12">60</text>
<text x="148.9" y="334.9" text-anchor="middle" font-size="12">100</text>
<text x="112" y="352.9" text-anchor="middle" font-size="12.65">Sampling point</text>
<text x="40.4" y="310.6" text-anchor="end" font-size="12">−<tspan dx="2.6">2</tspan></text>
<text x="40.4" y="291.05" text-anchor="end" font-size="12">0</text>
<text x="40.4" y="271.5" text-anchor="end" font-size="12">2</text>
<text transform="translate(13.8 286.65) rotate(-90)" text-anchor="middle" font-size="12.65">Amplitude</text>
<rect x="230" y="256" width="131.7" height="60.7" fill="none" stroke="#262626" stroke-width="2.0"/>
<path d="M249.7 316.7v-1.7M249.7 256v1.7M270.44 316.7v-1.7M270.44 256v1.7M291.18 316.7v-1.7M291.18 256v1.7M311.92 316.7v-1.7M311.92 256v1.7M332.66 316.7v-1.7M332.66 256v1.7M353.4 316.7v-1.7M353.4 256v1.7M230 305.6h1.7M361.7 305.6h-1.7M230 286.05h1.7M361.7 286.05h-1.7M230 266.5h1.7M361.7 266.5h-1.7" stroke="#262626" stroke-width="1.4" fill="none"/>
<polyline points="230,276.3 361.7,276.3" fill="none" stroke="#0072BD" stroke-width="2.0" stroke-linejoin="round"/>
<polyline points="230,286.3 233.9,301.5 238.3,286.3 246.9,316 255.2,286.3 262.7,316.6 263.7,259.2 267,271.5 270.3,259.2 271.3,316.6 272.2,259.2 275.1,271.5 278.9,259.2 279.3,316.6 280.3,259.2 283.6,271.5 286.4,259.2 287.9,316.6 288.8,259.2 299.4,300.6 311.1,259 321.5,316 328.4,259.6 329.4,315.4 333.2,302.2 336,312.6 336.9,255.8 340.7,271 345.5,255.8 347.4,312.6 350.2,301.2 352.1,312.6 353.6,255.8 354.9,312.6 357.8,302.2 360.6,312.6 361.7,310" fill="none" stroke="#D95319" stroke-width="2.0" stroke-linejoin="round"/>
<text x="295.85" y="250.5" text-anchor="middle" font-size="12.65">2FSK</text>
<text x="249.7" y="334.9" text-anchor="middle" font-size="12">20</text>
<text x="291.18" y="334.9" text-anchor="middle" font-size="12">60</text>
<text x="332.66" y="334.9" text-anchor="middle" font-size="12">100</text>
<text x="295.85" y="352.9" text-anchor="middle" font-size="12.65">Sampling point</text>
<text x="224.4" y="310.6" text-anchor="end" font-size="12">−<tspan dx="2.6">2</tspan></text>
<text x="224.4" y="291.05" text-anchor="end" font-size="12">0</text>
<text x="224.4" y="271.5" text-anchor="end" font-size="12">2</text>
<text transform="translate(197.8 286.65) rotate(-90)" text-anchor="middle" font-size="12.65">Amplitude</text>
<rect x="414" y="256" width="131.7" height="60.7" fill="none" stroke="#262626" stroke-width="2.0"/>
<path d="M433.7 316.7v-1.7M433.7 256v1.7M454.44 316.7v-1.7M454.44 256v1.7M475.18 316.7v-1.7M475.18 256v1.7M495.92 316.7v-1.7M495.92 256v1.7M516.66 316.7v-1.7M516.66 256v1.7M537.4 316.7v-1.7M537.4 256v1.7M414 308.59h1.7M545.7 308.59h-1.7M414 287.81h1.7M545.7 287.81h-1.7M414 267.02h1.7M545.7 267.02h-1.7" stroke="#262626" stroke-width="1.4" fill="none"/>
<polyline points="414.1,278.1 545.7,278.1" fill="none" stroke="#0072BD" stroke-width="2.0" stroke-linejoin="round"/>
<polyline points="414.1,286.5 418.2,304.9 422.4,287.8 424.3,263.5 425.3,316.2 426.7,304 427.8,315 430.3,255.8 435.6,315 437.6,255.8 441.8,315 446.6,255.8 455.4,288 457.3,263.4 458.6,316.4 468.1,270.9 476.2,304.1 480.4,254.8 492.3,304.1 505.2,254.8 516.9,306 518.5,316.4 519.8,263.4 521.7,288 526,305 529.3,255.8 531.1,308.8 534,270.9 537.8,255.8 539.7,308.8 541.9,261.5 543.5,314.5 545,299.3 545.7,290" fill="none" stroke="#D95319" stroke-width="2.0" stroke-linejoin="round"/>
<text x="479.85" y="250.5" text-anchor="middle" font-size="12.65">4FSK</text>
<text x="433.7" y="334.9" text-anchor="middle" font-size="12">20</text>
<text x="475.18" y="334.9" text-anchor="middle" font-size="12">60</text>
<text x="516.66" y="334.9" text-anchor="middle" font-size="12">100</text>
<text x="479.85" y="352.9" text-anchor="middle" font-size="12.65">Sampling point</text>
<text x="408.4" y="313.59" text-anchor="end" font-size="12">−<tspan dx="2.6">2</tspan></text>
<text x="408.4" y="292.81" text-anchor="end" font-size="12">0</text>
<text x="408.4" y="272.02" text-anchor="end" font-size="12">2</text>
<text transform="translate(381.8 286.65) rotate(-90)" text-anchor="middle" font-size="12.65">Amplitude</text>
</svg>
</body></html>
